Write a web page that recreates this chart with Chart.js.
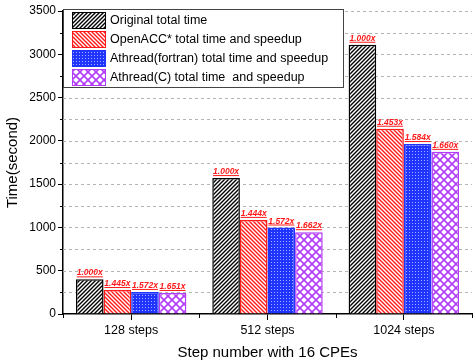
<!DOCTYPE html>
<html>
<head>
<meta charset="utf-8">
<script src="https://cdn.jsdelivr.net/npm/chart.js@4/dist/chart.umd.min.js"></script>
<style>
  html, body { margin: 0; padding: 0; background: #fff; }
  #chart { display: block; }
</style>
</head>
<body>
<canvas id="chart" width="474" height="362"></canvas>
<script>
// Chart data
const categories = ['128 steps', '512 steps', '1024 steps'];
const seriesNames = [
    'Original total time',
    'OpenACC* total time and speedup',
    'Athread(fortran) total time and speedup',
    'Athread(C) total time  and speedup'
];
const originalTime = [400, 1570, 3110];
const openaccTime = [277, 1087, 2140];
const athreadFortranTime = [255, 999, 1963];
const athreadCTime = [243, 945, 1873];
const originalSpeedup = ['1.000x', '1.000x', '1.000x'];
const openaccSpeedup = ['1.445x', '1.444x', '1.453x'];
const athreadFortranSpeedup = ['1.572x', '1.572x', '1.584x'];
const athreadCSpeedup = ['1.651x', '1.662x', '1.660x'];
const yMin = 0;
const yMax = 3500;
const yStep = 250;

const FONT = '"Liberation Sans", Arial, sans-serif';

// fill patterns for the bars
function makePattern(kind, color) {
    const c = document.createElement('canvas');
    const ctx = c.getContext('2d');
    if (kind === 'slash') {
        c.width = c.height = 4;
        ctx.fillStyle = '#fff';
        ctx.fillRect(0, 0, 4, 4);
        ctx.strokeStyle = color;
        ctx.lineWidth = 1.4;
        ctx.beginPath();
        ctx.moveTo(-1, 5); ctx.lineTo(5, -1);
        ctx.moveTo(-1, 1); ctx.lineTo(1, -1);
        ctx.moveTo(3, 5); ctx.lineTo(5, 3);
        ctx.stroke();
    } else if (kind === 'backslash') {
        c.width = c.height = 4;
        ctx.fillStyle = '#fff';
        ctx.fillRect(0, 0, 4, 4);
        ctx.strokeStyle = color;
        ctx.lineWidth = 1.4;
        ctx.beginPath();
        ctx.moveTo(-1, -1); ctx.lineTo(5, 5);
        ctx.moveTo(3, -1); ctx.lineTo(5, 1);
        ctx.moveTo(-1, 3); ctx.lineTo(1, 5);
        ctx.stroke();
    } else if (kind === 'dots') {
        c.width = c.height = 3;
        ctx.fillStyle = color;
        ctx.fillRect(0, 0, 3, 3);
        ctx.fillStyle = 'rgba(255,255,255,0.6)';
        ctx.fillRect(1, 1, 1, 1);
    } else {
        c.width = c.height = 8;
        ctx.fillStyle = '#fff';
        ctx.fillRect(0, 0, 8, 8);
        ctx.strokeStyle = color;
        ctx.lineWidth = 1.6;
        ctx.beginPath();
        ctx.moveTo(-1, -1); ctx.lineTo(9, 9);
        ctx.moveTo(-1, 9); ctx.lineTo(9, -1);
        ctx.stroke();
    }
    return document.createElement('canvas').getContext('2d').createPattern(c, 'repeat');
}

const colors = ['#000000', '#ff1a1a', '#1f35ff', '#b23cf5'];
const patterns = [
    makePattern('slash', colors[0]),
    makePattern('backslash', colors[1]),
    makePattern('dots', colors[2]),
    makePattern('cross', colors[3])
];
const values = [originalTime, openaccTime, athreadFortranTime, athreadCTime];
const speedups = [originalSpeedup, openaccSpeedup, athreadFortranSpeedup, athreadCSpeedup];

const datasets = values.map((v, i) => ({
    label: seriesNames[i],
    data: v,
    backgroundColor: patterns[i],
    borderColor: colors[i],
    borderWidth: 1.5,
    borderSkipped: 'bottom',
    categoryPercentage: 0.81,
    barPercentage: 1
}));

// dashed grid, minor ticks and boundary ticks
const gridPlugin = {
    id: 'dashGrid',
    beforeDatasetsDraw(chart) {
        const { ctx, chartArea, scales } = chart;
        ctx.save();
        ctx.strokeStyle = '#b4b4b4';
        ctx.lineWidth = 1;
        ctx.setLineDash([3, 3]);
        for (let v = yMin + yStep; v <= yMax; v += yStep) {
            const y = Math.round(scales.y.getPixelForValue(v)) + 0.5;
            ctx.beginPath();
            ctx.moveTo(chartArea.left, y);
            ctx.lineTo(chartArea.right, y);
            ctx.stroke();
        }
        ctx.restore();
    },
    afterDraw(chart) {
        const { ctx, chartArea, scales } = chart;
        ctx.save();
        ctx.strokeStyle = '#000';
        ctx.lineWidth = 1;
        // short ticks between categories
        const n = categories.length;
        const w = (chartArea.right - chartArea.left) / n;
        for (let i = 0; i <= n; i++) {
            const x = Math.round(chartArea.left + i * w) + 0.5;
            ctx.beginPath();
            ctx.moveTo(x, chartArea.bottom);
            ctx.lineTo(x, chartArea.bottom + 4);
            ctx.stroke();
        }
        // short minor ticks on the y axis
        for (let v = yMin + yStep; v < yMax; v += 2 * yStep) {
            const y = Math.round(scales.y.getPixelForValue(v)) + 0.5;
            ctx.beginPath();
            ctx.moveTo(chartArea.left - 3, y);
            ctx.lineTo(chartArea.left, y);
            ctx.stroke();
        }
        ctx.restore();
    }
};

// red italic underlined speedup labels
const labelPlugin = {
    id: 'speedupLabels',
    afterDatasetsDraw(chart) {
        const { ctx } = chart;
        ctx.save();
        ctx.font = 'italic bold 8.5px ' + FONT;
        ctx.fillStyle = '#ff1a1a';
        ctx.strokeStyle = '#ff1a1a';
        ctx.textAlign = 'center';
        ctx.textBaseline = 'alphabetic';
        chart.data.datasets.forEach((ds, di) => {
            chart.getDatasetMeta(di).data.forEach((bar, i) => {
                const t = speedups[di][i];
                const y = bar.y - 4;
                ctx.fillText(t, bar.x, y);
                const tw = ctx.measureText(t).width;
                ctx.lineWidth = 1;
                ctx.beginPath();
                ctx.moveTo(bar.x - tw / 2, y + 1.5);
                ctx.lineTo(bar.x + tw / 2, y + 1.5);
                ctx.stroke();
            });
        });
        ctx.restore();
    }
};

// legend box inside the plot
const legendPlugin = {
    id: 'boxLegend',
    afterDatasetsDraw(chart) {
        const { ctx } = chart;
        const x0 = 63.5, y0 = 9.5, w = 280, h = 78;
        ctx.save();
        ctx.fillStyle = '#fff';
        ctx.fillRect(x0, y0, w, h);
        ctx.strokeStyle = '#444';
        ctx.lineWidth = 1;
        ctx.strokeRect(x0, y0, w, h);
        ctx.font = '12.5px ' + FONT;
        ctx.textBaseline = 'middle';
        chart.data.datasets.forEach((ds, i) => {
            const sy = 12 + i * 19;
            ctx.fillStyle = ds.backgroundColor;
            ctx.fillRect(72, sy, 34, 17);
            ctx.strokeStyle = ds.borderColor;
            ctx.lineWidth = 1;
            ctx.strokeRect(72.5, sy + 0.5, 33, 16);
            ctx.fillStyle = '#000';
            ctx.fillText(ds.label, 110, sy + 9);
        });
        ctx.restore();
    }
};

new Chart(document.getElementById('chart'), {
    type: 'bar',
    data: { labels: categories, datasets: datasets },
    options: {
        responsive: false,
        animation: false,
        devicePixelRatio: 1,
        layout: { padding: { top: 11, right: 2, left: 0, bottom: 0 } },
        plugins: {
            legend: { display: false },
            tooltip: { enabled: false }
        },
        scales: {
            x: {
                offset: true,
                grid: {
                    offset: false,
                    drawOnChartArea: false,
                    tickLength: 6,
                    tickColor: '#000'
                },
                border: { color: '#000', width: 1.5 },
                ticks: { color: '#000', font: { family: FONT, size: 12.5 }, padding: 3 },
                title: {
                    display: true,
                    text: 'Step number with 16 CPEs',
                    color: '#000',
                    font: { family: FONT, size: 15 },
                    padding: { top: 2, bottom: 0 }
                },
                afterFit(scale) { scale.height = 48; }
            },
            y: {
                min: yMin,
                max: yMax,
                grid: {
                    drawOnChartArea: false,
                    tickLength: 5,
                    tickColor: c => (c.tick && c.tick.value % 500 === 0 ? '#000' : 'rgba(0,0,0,0)')
                },
                border: { color: '#000', width: 1.5 },
                ticks: {
                    stepSize: yStep,
                    autoSkip: false,
                    color: '#000',
                    font: { family: FONT, size: 12 },
                    padding: 2,
                    callback: v => (v % 500 === 0 ? v : '')
                },
                title: {
                    display: true,
                    text: 'Time(second)',
                    color: '#000',
                    font: { family: FONT, size: 15 },
                    padding: { top: 4, bottom: 0 }
                },
                afterFit(scale) { scale.width = 63; }
            }
        }
    },
    plugins: [gridPlugin, labelPlugin, legendPlugin]
});
</script>
</body>
</html>
